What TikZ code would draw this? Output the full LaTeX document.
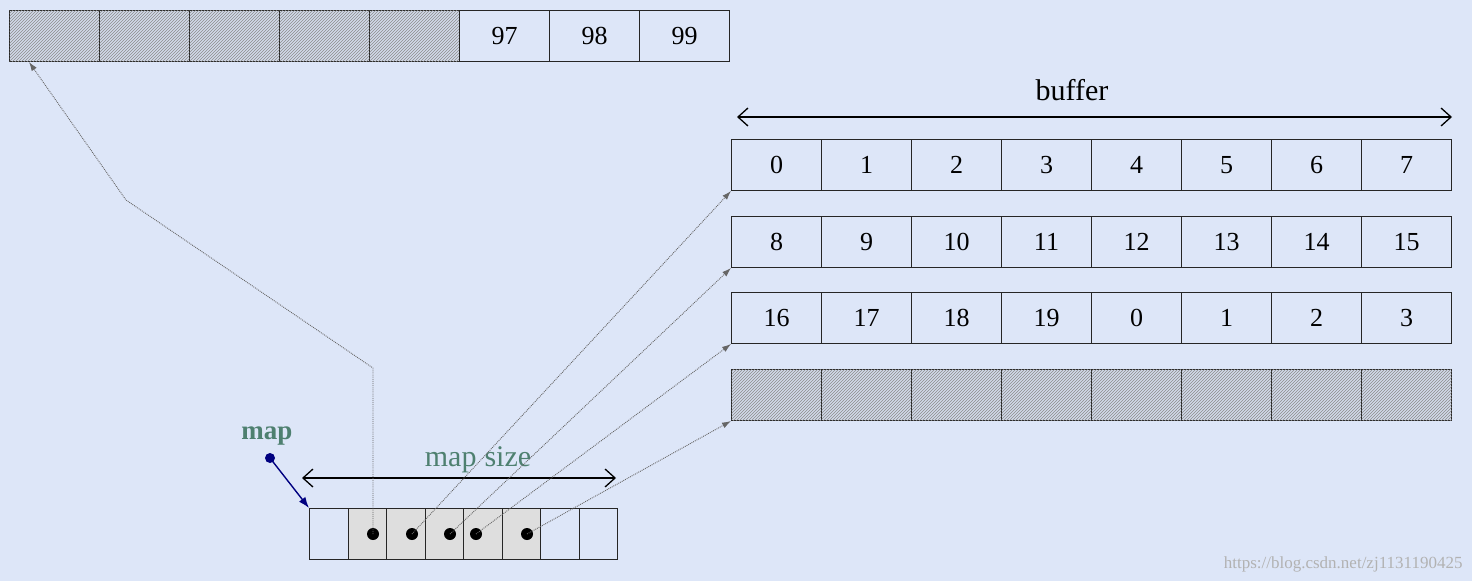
\documentclass[tikz,border=0pt]{standalone}
\usepackage{fontspec}
\setmainfont{Liberation Serif}
\usetikzlibrary{patterns,arrows.meta}
\definecolor{bg}{HTML}{DDE6F8}
\definecolor{grn}{HTML}{4E8070}
\begin{document}
\begin{tikzpicture}[x=1pt,y=-1pt,
  cell/.style={draw=black!85,line width=1pt,minimum width=90pt,minimum height=51pt,inner sep=0pt,font=\fontsize{26}{28}\selectfont},
  hcell/.style={cell,fill=bg!88!gray,postaction={pattern=north east lines,pattern color=black!45}},
  mcell/.style={draw=black!85,line width=1pt,minimum width=38.5pt,minimum height=51pt,inner sep=0pt},
  ptr/.style={densely dotted,line width=0.9pt,draw=black!60,-{Latex[length=9pt,width=6pt]}},
  dimarrow/.style={line width=1.3pt,{Straight Barb[length=10pt,width=18pt]}-{Straight Barb[length=10pt,width=18pt]}}]
\fill[bg] (0,0) rectangle (1472,581);
% top row
\foreach \i in {0,...,4}{\node[hcell,anchor=north west] (t\i) at (9+90*\i,10) {};}
\foreach \i/\v in {5/97,6/98,7/99}{\node[cell,anchor=north west] (t\i) at (9+90*\i,10) {\v};}
% buffer
\node[font=\fontsize{30}{32}\selectfont] (buflab) at (1072,90) {buffer};
\coordinate (bl) at (737,117); \coordinate (br) at (1452,117);
\draw[dimarrow] (bl) -- (br);
\foreach \v [count=\i from 0] in {0,1,2,3,4,5,6,7}{\node[cell,anchor=north west] (a\i) at (731+90*\i,139) {\v};}
\foreach \v [count=\i from 0] in {8,9,10,11,12,13,14,15}{\node[cell,anchor=north west] (b\i) at (731+90*\i,216) {\v};}
\foreach \v [count=\i from 0] in {16,17,18,19,0,1,2,3}{\node[cell,anchor=north west] (c\i) at (731+90*\i,292) {\v};}
\foreach \i in {0,...,7}{\node[hcell,anchor=north west] (d\i) at (731+90*\i,369) {};}
% map
\foreach \i in {1,...,5}{\fill[black!13] (309+38.5*\i,508) rectangle ++(38.5,51);}
\foreach \i in {0,...,7}{\node[mcell,anchor=north west] (m\i) at (309+38.5*\i,508) {};}
\foreach \n/\x in {p1/373,p2/412,p3/450,p4/476,p5/527}{\fill (\x,534) circle (6pt) coordinate (\n);}
\coordinate (ml) at (302,478); \coordinate (mr) at (616,478);
\draw[dimarrow] (ml) -- (mr);
\node[font=\fontsize{30}{32}\selectfont,text=grn] (mslab) at (478,460) {map\hspace{8pt}size};
\node[font=\bfseries\fontsize{27}{29}\selectfont,text=grn] (maplab) at (267,436) {map};
\fill[blue!50!black] (270,458) circle (5pt) coordinate (mapdot);
\draw[blue!50!black,line width=1.4pt,-{Latex[length=11pt,width=8pt]}] (mapdot) -- (m0.north west);
% pointers
\coordinate (k1) at (373,368); \coordinate (k2) at (126,200);
\draw[ptr] (p1) -- (k1) -- (k2) -- ([xshift=20pt]t0.south west);
\draw[ptr] (p2) -- (a0.south west);
\draw[ptr] (p3) -- (b0.south west);
\draw[ptr] (p4) -- (c0.south west);
\draw[ptr] (p5) -- (d0.south west);
\node[anchor=south east,text=black!30,font=\fontsize{17}{19}\selectfont] (wm) at (1466,576) {https://blog.csdn.net/zj1131190425};
\end{tikzpicture}
\end{document}
